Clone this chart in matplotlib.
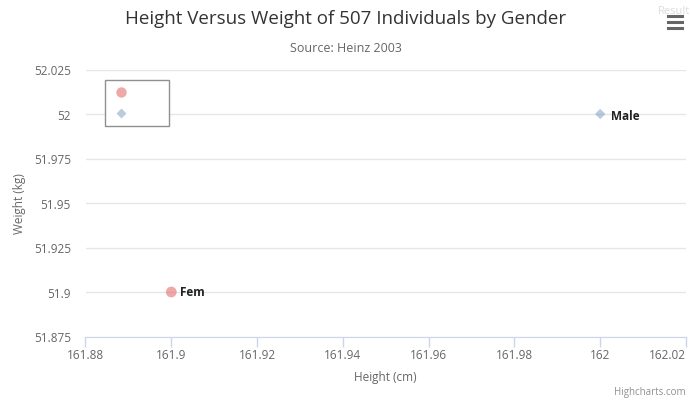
import matplotlib
matplotlib.use("Agg")
import matplotlib.pyplot as plt
from matplotlib.lines import Line2D
from matplotlib.patches import Rectangle

plt.rcParams['font.family'] = ['Open Sans', 'DejaVu Sans']

female_h = [161.9]
female_w = [51.9]
male_h = [162.0]
male_w = [52.0]
female_label = "Fem"
male_label = "Male"
x_ticks = [161.88, 161.9, 161.92, 161.94, 161.96, 161.98, 162.0, 162.02]
x_tick_labels = ["161.88", "161.9", "161.92", "161.94", "161.96", "161.98", "162", "162.02"]
y_ticks = [51.875, 51.9, 51.925, 51.95, 51.975, 52.0, 52.025]
y_tick_labels = ["51.875", "51.9", "51.925", "51.95", "51.975", "52", "52.025"]

fem_color = (223/255, 83/255, 83/255, 0.5)
male_color = (119/255, 152/255, 191/255, 0.5)

W, H = 691, 410
fig = plt.figure(figsize=(W/100, H/100), dpi=100)
L, R, T, B = 85.5, 686, 70.5, 337.5
ax = fig.add_axes([L/W, 1-B/H, (R-L)/W, (B-T)/H])

ax.scatter(female_h, female_w, s=60, marker='o', color=fem_color, edgecolors='none', zorder=3)
ax.scatter(male_h, male_w, s=28, marker='D', color=male_color, edgecolors='none', zorder=3)
ax.annotate(female_label, (female_h[0], female_w[0]), xytext=(6, 0), textcoords='offset points',
            va='center', ha='left', fontsize=8.5, fontweight='bold', color='#222222')
ax.annotate(male_label, (male_h[0], male_w[0]), xytext=(7.5, -1), textcoords='offset points',
            va='center', ha='left', fontsize=8.5, fontweight='bold', color='#222222')

ax.set_xlim(x_ticks[0], x_ticks[-1])
ax.set_ylim(y_ticks[0], y_ticks[-1])
ax.set_xticks(x_ticks)
ax.set_xticklabels(x_tick_labels)
ax.set_yticks(y_ticks)
ax.set_yticklabels(y_tick_labels)
ax.get_xticklabels()[-1].set_ha('right')
ax.grid(axis='y', color='#e6e6e6', linewidth=1)
ax.set_axisbelow(True)
for s in ['top', 'right', 'left']:
    ax.spines[s].set_visible(False)
ax.spines['bottom'].set_color('#ccd6eb')
ax.tick_params(axis='x', colors='#ccd6eb', labelcolor='#666666', length=7, width=1, labelsize=8.5, pad=1)
ax.tick_params(axis='y', length=0, labelcolor='#666666', labelsize=8.5, pad=10.5)

ax.set_xlabel("Height (cm)", fontsize=8.5, color='#666666', labelpad=7)
ax.set_ylabel("Weight (kg)", fontsize=8.5, color='#666666', labelpad=6)

fig.text(0.5, 1-19/H, "Height Versus Weight of 507 Individuals by Gender", ha='center', va='center',
         fontsize=13.5, color='#333333')
fig.text(0.5, 1-48/H, "Source: Heinz 2003", ha='center', va='center', fontsize=9, color='#666666')
fig.text(686/W, 1-393/H, "Highcharts.com", ha='right', va='center', fontsize=7, color='#909090')
fig.text(690/W, 1-11/H, "Result", ha='right', va='center', fontsize=8, color='#dddddd')

# menu icon
for yy in [17, 23, 29]:
    fig.add_artist(Line2D([668/W, 682/W], [1-yy/H, 1-yy/H], color='#666666', linewidth=2.2))

# legend box (markers only)
ax.add_patch(Rectangle((105/W, 1-127/H), 64/W, 46/H, transform=fig.transFigure,
                       facecolor='white', edgecolor='#909090', linewidth=1, zorder=4, clip_on=False))
leg = ax.legend(handles=[
    Line2D([], [], marker='o', linestyle='none', markersize=7.5, markerfacecolor=fem_color, markeredgecolor='none', label=' '),
    Line2D([], [], marker='D', linestyle='none', markersize=5, markerfacecolor=male_color, markeredgecolor='none', label=' '),
], loc='center', bbox_to_anchor=((121 - L + 1)/(R-L), (B-104)/(B-T)),
    frameon=False, borderpad=0, handletextpad=0, labelspacing=0.65, handlelength=1.0, fontsize=8.5)
leg.set_zorder(5)

fig.savefig("out.png", dpi=100)
